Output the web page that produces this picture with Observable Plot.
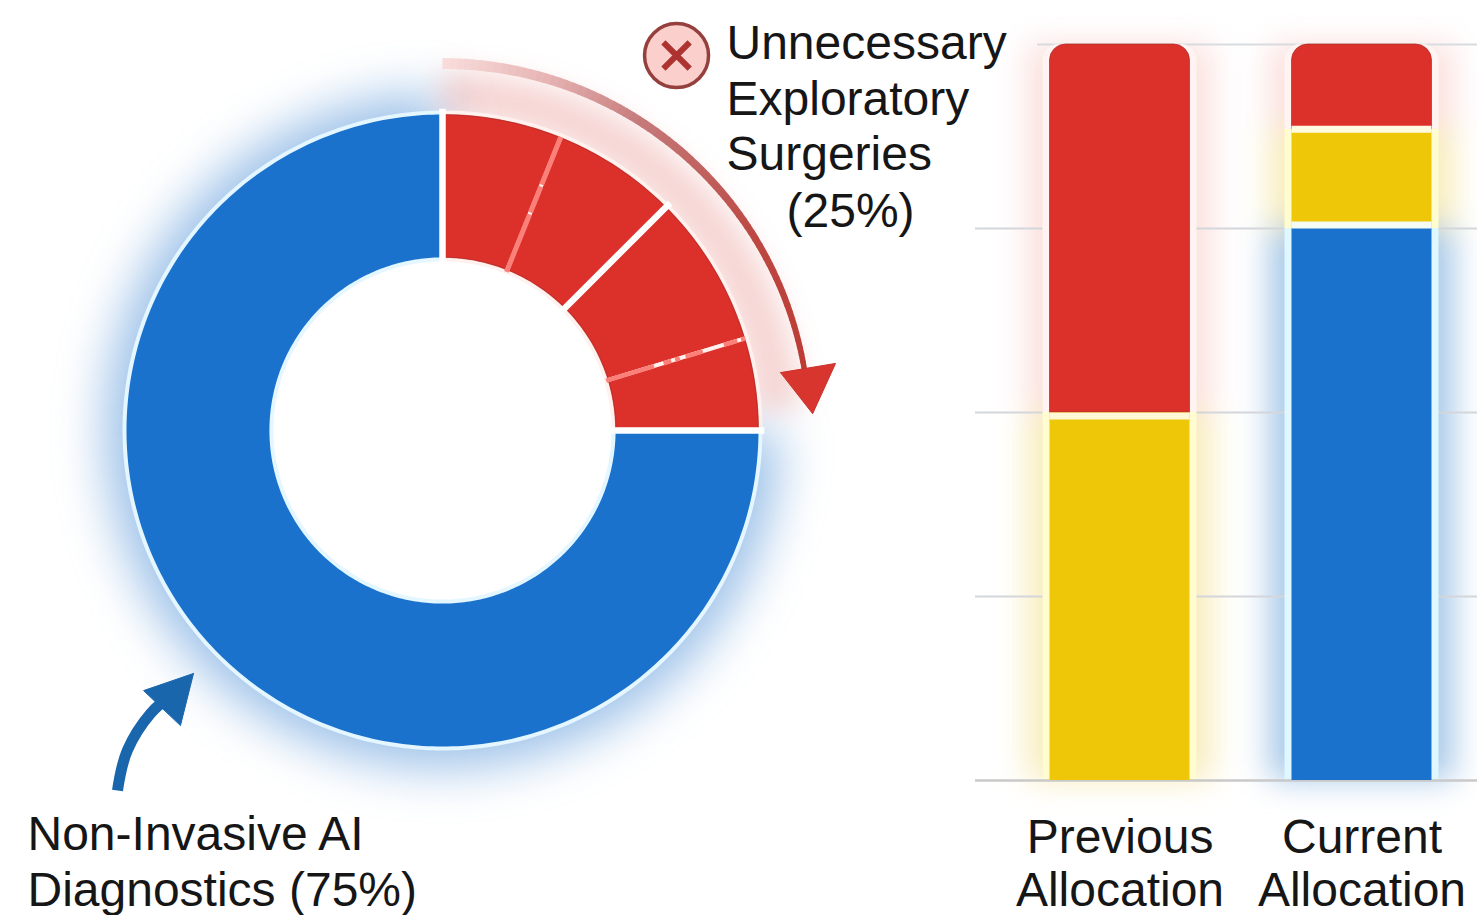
<!DOCTYPE html>
<html>
<head>
<meta charset="utf-8">
<script src="https://cdn.jsdelivr.net/npm/d3@7"></script>
<script src="https://cdn.jsdelivr.net/npm/@observablehq/plot@0.6"></script>
<style>
html,body{margin:0;background:#fff}
#c{position:relative;width:1477px;height:915px;overflow:hidden;background:#fff}
#c svg{position:absolute;top:0;background:transparent;overflow:visible;max-width:none}
</style>
</head>
<body>
<div id="c"></div>
<script>
// ---- data ----
const sliceNames = ["Surgery A", "Surgery B", "Surgery C", "Surgery D", "Non-Invasive AI Diagnostics"];
const sliceShares = [6.1, 6.4, 7.8, 4.7, 75];
const sliceGroups = ["red", "red", "red", "red", "blue"];

const barCategories = ["Previous Allocation", "Current Allocation"];
const previousRed = 50, previousYellow = 50;
const currentRed = 11.5, currentYellow = 13.5, currentBlue = 75;
const gridValues = [25, 50, 75];

// ---- palette ----
const RED = "#dc302b", BLUE = "#1a72cc", YELLOW = "#eec708", INK = "#161616";
const FONT = "'Liberation Sans', Arial, sans-serif";

// ---- donut geometry, in units of the outer radius ----
const INNER = 0.538;
const polar = (share, r) => {
  const a = share / 100 * 2 * Math.PI;
  return {x: r * Math.sin(a), y: r * Math.cos(a)};
};
function ring(id, s0, s1, r0, r1, extra = {}) {
  const n = Math.max(2, Math.ceil((s1 - s0) * 4));
  const pts = [];
  for (let i = 0; i <= n; i++) pts.push({id, ...extra, ...polar(s0 + (s1 - s0) * i / n, r1)});
  for (let i = n; i >= 0; i--) pts.push({id, ...extra, ...polar(s0 + (s1 - s0) * i / n, r0)});
  pts.push(pts[0]);
  return pts;
}
let acc = 0;
const slices = sliceShares.map((v, i) => {
  const s = {name: sliceNames[i], group: sliceGroups[i], s0: acc, s1: acc + v};
  acc += v;
  return s;
});
const slicePolys = slices.flatMap(s => ring(s.name, s.s0, s.s1, INNER, 1, {group: s.group}));
const redEdges = ring("redEdge", 0, slices[3].s1, INNER + 0.007, 0.993);
const spoke = (share, id, r0 = INNER - 0.01, r1 = 1.012) => [{id, ...polar(share, r0)}, {id, ...polar(share, r1)}];
const redEnd = slices[3].s1;
const whiteSpokes = [0, slices[1].s1, redEnd].flatMap((s, i) => spoke(s, "w" + i));
const pinkSpokes = [slices[0].s1, slices[2].s1];

// sweep arrow: pieces fade in along the arc
const sweepEnd = 22.3, sweepR = 1.154;
const sweepStops = d3.scaleLinear().domain([0, 0.2, 0.4, 0.7, 1]).range(["#f8dcda", "#e6b4b3", "#c57a7a", "#bc4a45", "#bd3a32"]);
const sweepPieces = [];
for (let i = 0; i < 70; i++) {
  const t0 = i / 70, t1 = (i + 1.15) / 70;
  const w = 11 - 5.5 * t0;
  for (const t of [t0, t1]) sweepPieces.push({id: i, color: sweepStops(t0), w, ...polar(t * sweepEnd, sweepR)});
}
const sweepHead = [[1.063, 0.182], [1.236, 0.211], [1.164, 0.053], [1.063, 0.182]].map(([x, y]) => ({x, y}));
const blueStem = [[-1.022, -1.132], [-0.991, -1.006], [-0.918, -0.890], [-0.862, -0.843]].map(([x, y]) => ({x, y}));
const blueHead = [[-0.783, -0.764], [-0.940, -0.818], [-0.824, -0.928], [-0.783, -0.764]].map(([x, y]) => ({x, y}));
const iconCentre = [{x: 0.736, y: 1.179}];

const ltext = (t, left, base) => Plot.text([t], {
  frameAnchor: "top-left", dx: left, dy: base, text: d => d, lineAnchor: "bottom",
  textAnchor: "start", fontSize: 48, fill: INK, fontFamily: FONT
});

const left = Plot.plot({
  width: 1477, height: 915, margin: 0,
  x: {domain: [-442 / 318, 1035 / 318], range: [0, 1477], axis: null},
  y: {domain: [430 / 318, -485 / 318], range: [0, 915], axis: null},
  style: {fontFamily: FONT},
  marks: [
    // glows
    Plot.line(ring("glowB", redEnd, 100, INNER, 1.06), {x: "x", y: "y", z: "id", fill: "#3f86d2", stroke: "none", fillOpacity: 0.52, imageFilter: "blur(25px)"}),
    Plot.line(ring("glowR", 0, 24, 0.98, 1.13), {x: "x", y: "y", z: "id", fill: "#dd5a55", stroke: "none", fillOpacity: 0.25, imageFilter: "blur(14px)"}),
    Plot.line(ring("hole", 0, 100, 0, INNER), {x: "x", y: "y", z: "id", fill: "#fff", stroke: "none"}),
    // slices
    Plot.line(slicePolys, {
      x: "x", y: "y", z: "id",
      fill: d => d.group === "red" ? RED : BLUE,
      stroke: d => d.group === "red" ? "#fff1ee" : "#e4f6ff",
      strokeWidth: 4
    }),
    Plot.line(redEdges, {x: "x", y: "y", z: "id", stroke: "#b62a26", strokeWidth: 1.2, strokeOpacity: 0.75}),
    Plot.line(whiteSpokes, {x: "x", y: "y", z: "id", stroke: "#fff", strokeWidth: 6.5, strokeLinecap: "butt"}),
    Plot.line(spoke(pinkSpokes[0], "p0", INNER, 0.995), {x: "x", y: "y", z: "id", stroke: "#fa8079", strokeWidth: 5, strokeDasharray: "62,2,28,2,70", strokeLinecap: "butt"}),
    Plot.line(spoke(pinkSpokes[1], "p1", INNER, 0.995), {x: "x", y: "y", z: "id", stroke: "#fa8079", strokeWidth: 4.5, strokeDasharray: "50,10,8,4,5,6,18,22,14,4", strokeLinecap: "butt"}),
    // sweep arrow
    Plot.line(sweepPieces, {x: "x", y: "y", z: "id", stroke: d => d.color, strokeWidth: d => d.w, strokeLinecap: "butt"}),
    Plot.line(sweepHead, {x: "x", y: "y", fill: "#d8352f", stroke: "#c9332d", strokeWidth: 1}),
    // blue arrow
    Plot.line(blueStem, {x: "x", y: "y", curve: "natural", stroke: "#1a66ad", strokeWidth: 11, strokeLinecap: "butt"}),
    Plot.line(blueHead, {x: "x", y: "y", fill: "#1a66ad", stroke: "#1a66ad", strokeWidth: 1}),
    // cross icon
    Plot.dot(iconCentre, {x: "x", y: "y", r: 32, fill: "#fbcfcb", stroke: "#96403e", strokeWidth: 3.5}),
    Plot.dot(iconCentre, {x: "x", y: "y", r: 12, symbol: "times", stroke: "#ad3331", strokeWidth: 6, fill: "none"}),
    // labels
    ltext("Unnecessary", 726, 58),
    ltext("Exploratory", 726, 114),
    ltext("Surgeries", 726, 169),
    ltext("(25%)", 786, 226),
    ltext("Non-Invasive AI", 27, 849),
    ltext("Diagnostics (75%)", 27, 905)
  ]
});
document.getElementById("c").appendChild(left);
left.style.left = "0px";

// ---- stacked bars ----
const [prevCat, currCat] = barCategories;
const rows = [
  {cat: prevCat, seg: "yellow", value: previousYellow},
  {cat: prevCat, seg: "red", value: previousRed},
  {cat: currCat, seg: "blue", value: currentBlue},
  {cat: currCat, seg: "yellow", value: currentYellow},
  {cat: currCat, seg: "red", value: currentRed}
];
const segOrder = ["blue", "yellow", "red"];
const solid = {red: RED, yellow: YELLOW, blue: BLUE};
const glow = {red: "#f7c6c1", yellow: "#f3dc80", blue: "#5f9ad6"};
const halo = {red: "#fff4f2", yellow: "#fffcd0", blue: "#dff7ff"};
const stackOf = o => Plot.stackY({x: "cat", y: "value", order: d => segOrder.indexOf(d.seg), z: "cat", ...o});
const isRed = d => d.seg === "red";
const notRed = d => d.seg !== "red";

const right = Plot.plot({
  width: 517, height: 915,
  marginTop: 44, marginBottom: 135, marginLeft: 15, marginRight: 0,
  x: {domain: barCategories, range: [-12.5, 573.5], padding: 0.4215, align: 0.5, round: false, label: null},
  y: {domain: [0, 100], axis: null},
  style: {fontFamily: FONT},
  marks: [
    Plot.barY(rows, stackOf({fill: d => glow[d.seg], insetLeft: -22, insetRight: -22, fillOpacity: 0.55, imageFilter: "blur(16px)"})),
    Plot.ruleY(gridValues, {stroke: "#d3d6da", strokeWidth: 2}),
    Plot.ruleY([100], {stroke: "#d9dcdf", strokeWidth: 2, insetLeft: 62}),
    Plot.barY(rows, Plot.filter(notRed, stackOf({fill: d => halo[d.seg], insetLeft: -7, insetRight: -7}))),
    Plot.barY(rows, Plot.filter(isRed, stackOf({fill: d => halo[d.seg], insetLeft: -7, insetRight: -7, ry1: 16}))),
    Plot.ruleY([0], {stroke: "#c9c9c9", strokeWidth: 2.5}),
    Plot.barY(rows, Plot.filter(notRed, stackOf({fill: d => solid[d.seg]}))),
    Plot.barY(rows, Plot.filter(isRed, stackOf({fill: d => solid[d.seg], ry1: 16, stroke: "#a92e2a", strokeWidth: 1, strokeOpacity: 0.7}))),
    Plot.tickY([{cat: prevCat, value: previousYellow}], {x: "cat", y: "value", stroke: "#fff8d6", strokeWidth: 7, dy: 3.5}),
    Plot.tickY([{cat: currCat, value: currentBlue}], {x: "cat", y: "value", stroke: "#f3fbf4", strokeWidth: 7, dy: -3.5}),
    Plot.tickY([{cat: currCat, value: currentBlue + currentYellow}], {x: "cat", y: "value", stroke: "#fffbe3", strokeWidth: 7}),
    Plot.axisX({tickSize: 0, tickPadding: 35, fontSize: 48, lineHeight: 1.1, label: null, tickFormat: d => d.replace(" ", "\n"), fill: INK, fontFamily: FONT})
  ]
});
document.getElementById("c").appendChild(right);
right.style.left = "960px";
</script>
</body>
</html>
